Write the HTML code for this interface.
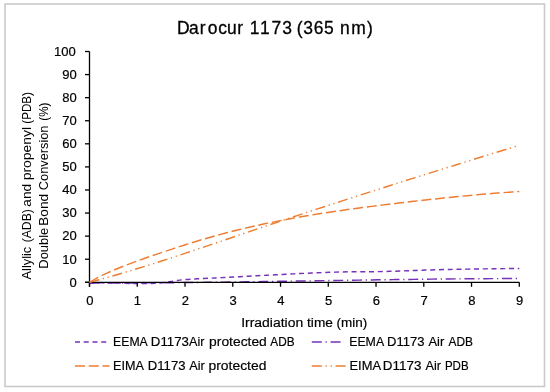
<!DOCTYPE html>
<html><head><meta charset="utf-8"><style>
html,body{margin:0;padding:0;background:#fff;}
body{width:550px;height:392px;overflow:hidden;}
svg{display:block;}
text{font-family:'Liberation Sans', Arial, sans-serif;fill:#000;stroke:#000;stroke-width:0.2px;}
.t text{stroke-width:0.3px;}
.k text{stroke-width:0.2px;}
.v text{stroke-width:0;}
</style></head><body>
<svg width="550" height="392" viewBox="0 0 550 392">
<rect x="0" y="0" width="550" height="392" fill="#fff"/>
<rect x="5" y="4" width="539.5" height="382.5" fill="#fff" stroke="#cacaca" stroke-width="1.6"/>
<g class="t">
<text x="177.10 188.93 199.66 207.80 218.30 227.06 237.31 241.31 249.81 260.11 271.49 282.25 286.25 296.71 303.30 313.69 324.07 328.07 340.04 351.18 366.89" y="34.30" font-size="17.44">Darocur 1173 (365 nm)</text>
</g>
<g fill="none" stroke-linecap="butt">
<path d="M89.50,283.21 C90.50,283.16 93.50,283.00 95.50,282.94 C97.50,282.88 99.50,282.85 101.50,282.84 C103.50,282.82 105.50,282.84 107.50,282.86 C109.50,282.88 111.50,282.92 113.50,282.97 C115.50,283.01 117.50,283.07 119.50,283.13 C121.50,283.19 123.50,283.25 125.50,283.31 C127.50,283.37 129.50,283.43 131.50,283.48 C133.50,283.53 135.50,283.57 137.50,283.59 C139.50,283.62 141.50,283.63 143.50,283.62 C145.50,283.61 147.50,283.59 149.50,283.53 C151.50,283.47 153.50,283.39 155.50,283.28 C157.50,283.16 159.50,283.03 161.50,282.83 C163.50,282.64 165.50,282.42 167.50,282.13 C169.50,281.84 171.50,281.43 173.50,281.10 C175.50,280.76 177.50,280.36 179.50,280.10 C181.50,279.84 183.50,279.70 185.50,279.54 C187.50,279.37 189.50,279.25 191.50,279.13 C193.50,279.01 195.50,278.92 197.50,278.81 C199.50,278.71 201.50,278.62 203.50,278.52 C205.50,278.43 207.50,278.33 209.50,278.23 C211.50,278.13 213.50,278.03 215.50,277.93 C217.50,277.83 219.50,277.73 221.50,277.63 C223.50,277.52 225.50,277.42 227.50,277.31 C229.50,277.21 231.50,277.11 233.50,277.00 C235.50,276.89 237.50,276.79 239.50,276.68 C241.50,276.58 243.50,276.47 245.50,276.36 C247.50,276.26 249.50,276.15 251.50,276.05 C253.50,275.94 255.50,275.83 257.50,275.73 C259.50,275.62 261.50,275.51 263.50,275.41 C265.50,275.30 267.50,275.20 269.50,275.09 C271.50,274.99 273.50,274.89 275.50,274.78 C277.50,274.68 279.50,274.58 281.50,274.48 C283.50,274.37 285.50,274.27 287.50,274.18 C289.50,274.08 291.50,273.98 293.50,273.88 C295.50,273.78 297.50,273.69 299.50,273.59 C301.50,273.50 303.50,273.41 305.50,273.32 C307.50,273.23 309.50,273.14 311.50,273.05 C313.50,272.96 315.50,272.88 317.50,272.79 C319.50,272.71 321.50,272.63 323.50,272.55 C325.50,272.47 327.50,272.39 329.50,272.32 C331.50,272.25 333.50,272.18 335.50,272.12 C337.50,272.05 339.50,272.00 341.50,271.95 C343.50,271.90 345.50,271.86 347.50,271.83 C349.50,271.81 351.50,271.79 353.50,271.77 C355.50,271.76 357.50,271.76 359.50,271.75 C361.50,271.74 363.50,271.74 365.50,271.73 C367.50,271.73 369.50,271.72 371.50,271.70 C373.50,271.68 375.50,271.66 377.50,271.62 C379.50,271.59 381.50,271.55 383.50,271.50 C385.50,271.45 387.50,271.40 389.50,271.34 C391.50,271.28 393.50,271.22 395.50,271.16 C397.50,271.09 399.50,271.02 401.50,270.95 C403.50,270.88 405.50,270.80 407.50,270.73 C409.50,270.66 411.50,270.58 413.50,270.51 C415.50,270.44 417.50,270.36 419.50,270.29 C421.50,270.22 423.50,270.16 425.50,270.09 C427.50,270.03 429.50,269.97 431.50,269.91 C433.50,269.85 435.50,269.79 437.50,269.74 C439.50,269.69 441.50,269.64 443.50,269.59 C445.50,269.54 447.50,269.50 449.50,269.45 C451.50,269.41 453.50,269.37 455.50,269.33 C457.50,269.29 459.50,269.25 461.50,269.22 C463.50,269.18 465.50,269.15 467.50,269.11 C469.50,269.08 471.50,269.05 473.50,269.02 C475.50,268.99 477.50,268.96 479.50,268.93 C481.50,268.91 483.50,268.88 485.50,268.85 C487.50,268.83 489.50,268.80 491.50,268.78 C493.50,268.75 495.50,268.73 497.50,268.70 C499.50,268.68 501.50,268.65 503.50,268.63 C505.50,268.60 507.50,268.58 509.50,268.55 C511.50,268.53 513.87,268.50 515.50,268.48 C517.13,268.46 518.67,268.44 519.30,268.43" stroke="#7632B8" stroke-width="1.45" stroke-dasharray="5.0,3.75"/>
<path d="M89.50,283.05 C90.50,283.05 93.50,283.05 95.50,283.05 C97.50,283.05 99.50,283.05 101.50,283.05 C103.50,283.05 105.50,283.04 107.50,283.04 C109.50,283.04 111.50,283.04 113.50,283.03 C115.50,283.03 117.50,283.02 119.50,283.01 C121.50,283.01 123.50,283.00 125.50,282.99 C127.50,282.99 129.50,282.98 131.50,282.97 C133.50,282.96 135.50,282.95 137.50,282.94 C139.50,282.93 141.50,282.92 143.50,282.91 C145.50,282.89 147.50,282.88 149.50,282.87 C151.50,282.85 153.50,282.84 155.50,282.83 C157.50,282.81 159.50,282.80 161.50,282.78 C163.50,282.77 165.50,282.75 167.50,282.73 C169.50,282.72 171.50,282.70 173.50,282.68 C175.50,282.66 177.50,282.64 179.50,282.62 C181.50,282.61 183.50,282.59 185.50,282.57 C187.50,282.55 189.50,282.52 191.50,282.50 C193.50,282.48 195.50,282.46 197.50,282.44 C199.50,282.42 201.50,282.39 203.50,282.37 C205.50,282.35 207.50,282.32 209.50,282.30 C211.50,282.28 213.50,282.25 215.50,282.23 C217.50,282.20 219.50,282.18 221.50,282.15 C223.50,282.13 225.50,282.10 227.50,282.08 C229.50,282.05 231.50,282.02 233.50,282.00 C235.50,281.97 237.50,281.94 239.50,281.92 C241.50,281.89 243.50,281.86 245.50,281.83 C247.50,281.80 249.50,281.78 251.50,281.75 C253.50,281.72 255.50,281.69 257.50,281.66 C259.50,281.63 261.50,281.60 263.50,281.57 C265.50,281.54 267.50,281.51 269.50,281.48 C271.50,281.46 273.50,281.43 275.50,281.40 C277.50,281.37 279.50,281.33 281.50,281.30 C283.50,281.27 285.50,281.24 287.50,281.21 C289.50,281.18 291.50,281.15 293.50,281.12 C295.50,281.09 297.50,281.06 299.50,281.03 C301.50,281.00 303.50,280.97 305.50,280.93 C307.50,280.90 309.50,280.87 311.50,280.84 C313.50,280.81 315.50,280.78 317.50,280.75 C319.50,280.72 321.50,280.69 323.50,280.65 C325.50,280.62 327.50,280.59 329.50,280.56 C331.50,280.53 333.50,280.50 335.50,280.47 C337.50,280.44 339.50,280.41 341.50,280.38 C343.50,280.35 345.50,280.32 347.50,280.29 C349.50,280.25 351.50,280.22 353.50,280.19 C355.50,280.16 357.50,280.13 359.50,280.10 C361.50,280.07 363.50,280.04 365.50,280.02 C367.50,279.99 369.50,279.96 371.50,279.93 C373.50,279.90 375.50,279.87 377.50,279.84 C379.50,279.81 381.50,279.78 383.50,279.76 C385.50,279.73 387.50,279.70 389.50,279.67 C391.50,279.64 393.50,279.62 395.50,279.59 C397.50,279.56 399.50,279.54 401.50,279.51 C403.50,279.48 405.50,279.46 407.50,279.43 C409.50,279.41 411.50,279.38 413.50,279.36 C415.50,279.33 417.50,279.31 419.50,279.28 C421.50,279.26 423.50,279.24 425.50,279.21 C427.50,279.19 429.50,279.17 431.50,279.15 C433.50,279.12 435.50,279.10 437.50,279.08 C439.50,279.06 441.50,279.04 443.50,279.02 C445.50,279.00 447.50,278.98 449.50,278.96 C451.50,278.94 453.50,278.92 455.50,278.90 C457.50,278.88 459.50,278.87 461.50,278.85 C463.50,278.83 465.50,278.81 467.50,278.80 C469.50,278.78 471.50,278.77 473.50,278.75 C475.50,278.74 477.50,278.72 479.50,278.71 C481.50,278.70 483.50,278.68 485.50,278.67 C487.50,278.66 489.50,278.65 491.50,278.64 C493.50,278.63 495.50,278.62 497.50,278.61 C499.50,278.60 501.50,278.59 503.50,278.58 C505.50,278.57 507.50,278.57 509.50,278.56 C511.50,278.55 513.87,278.55 515.50,278.54 C517.13,278.54 518.67,278.53 519.30,278.53" stroke="#7632B8" stroke-width="1.45" stroke-dasharray="10.0,3.75,1.25,3.75"/>
</g>
<g stroke="#000" stroke-width="1.3" fill="none">
<line x1="89.5" y1="51.5" x2="89.5" y2="286.8"/>
<line x1="85" y1="282.30" x2="519.30" y2="282.30"/>
<line x1="85" y1="282.30" x2="89.5" y2="282.30"/>
<line x1="85" y1="259.22" x2="89.5" y2="259.22"/>
<line x1="85" y1="236.14" x2="89.5" y2="236.14"/>
<line x1="85" y1="213.06" x2="89.5" y2="213.06"/>
<line x1="85" y1="189.98" x2="89.5" y2="189.98"/>
<line x1="85" y1="166.90" x2="89.5" y2="166.90"/>
<line x1="85" y1="143.82" x2="89.5" y2="143.82"/>
<line x1="85" y1="120.74" x2="89.5" y2="120.74"/>
<line x1="85" y1="97.66" x2="89.5" y2="97.66"/>
<line x1="85" y1="74.58" x2="89.5" y2="74.58"/>
<line x1="85" y1="51.50" x2="89.5" y2="51.50"/>
<line x1="89.50" y1="282.30" x2="89.50" y2="286.8"/>
<line x1="137.26" y1="282.30" x2="137.26" y2="286.8"/>
<line x1="185.01" y1="282.30" x2="185.01" y2="286.8"/>
<line x1="232.77" y1="282.30" x2="232.77" y2="286.8"/>
<line x1="280.52" y1="282.30" x2="280.52" y2="286.8"/>
<line x1="328.28" y1="282.30" x2="328.28" y2="286.8"/>
<line x1="376.03" y1="282.30" x2="376.03" y2="286.8"/>
<line x1="423.79" y1="282.30" x2="423.79" y2="286.8"/>
<line x1="471.54" y1="282.30" x2="471.54" y2="286.8"/>
<line x1="519.30" y1="282.30" x2="519.30" y2="286.8"/>
</g>
<g fill="none" stroke-linecap="butt">
<path d="M89.50,282.30 C90.50,281.71 93.50,279.87 95.50,278.76 C97.50,277.65 99.50,276.63 101.50,275.64 C103.50,274.65 105.50,273.73 107.50,272.83 C109.50,271.93 111.50,271.08 113.50,270.23 C115.50,269.39 117.50,268.57 119.50,267.76 C121.50,266.95 123.50,266.15 125.50,265.37 C127.50,264.59 129.50,263.83 131.50,263.08 C133.50,262.33 135.50,261.59 137.50,260.87 C139.50,260.14 141.50,259.43 143.50,258.73 C145.50,258.02 147.50,257.33 149.50,256.65 C151.50,255.96 153.50,255.28 155.50,254.61 C157.50,253.93 159.50,253.26 161.50,252.58 C163.50,251.91 165.50,251.24 167.50,250.58 C169.50,249.91 171.50,249.25 173.50,248.59 C175.50,247.93 177.50,247.28 179.50,246.63 C181.50,245.98 183.50,245.34 185.50,244.71 C187.50,244.07 189.50,243.44 191.50,242.82 C193.50,242.20 195.50,241.58 197.50,240.98 C199.50,240.37 201.50,239.78 203.50,239.19 C205.50,238.60 207.50,238.02 209.50,237.45 C211.50,236.88 213.50,236.32 215.50,235.77 C217.50,235.22 219.50,234.67 221.50,234.14 C223.50,233.60 225.50,233.08 227.50,232.56 C229.50,232.04 231.50,231.53 233.50,231.03 C235.50,230.52 237.50,230.03 239.50,229.54 C241.50,229.06 243.50,228.58 245.50,228.11 C247.50,227.64 249.50,227.17 251.50,226.72 C253.50,226.26 255.50,225.81 257.50,225.37 C259.50,224.93 261.50,224.50 263.50,224.07 C265.50,223.64 267.50,223.22 269.50,222.81 C271.50,222.40 273.50,221.99 275.50,221.59 C277.50,221.19 279.50,220.80 281.50,220.41 C283.50,220.03 285.50,219.64 287.50,219.27 C289.50,218.89 291.50,218.53 293.50,218.16 C295.50,217.80 297.50,217.44 299.50,217.09 C301.50,216.74 303.50,216.39 305.50,216.05 C307.50,215.71 309.50,215.38 311.50,215.05 C313.50,214.72 315.50,214.39 317.50,214.07 C319.50,213.75 321.50,213.43 323.50,213.12 C325.50,212.81 327.50,212.50 329.50,212.20 C331.50,211.90 333.50,211.60 335.50,211.31 C337.50,211.01 339.50,210.72 341.50,210.44 C343.50,210.15 345.50,209.87 347.50,209.59 C349.50,209.31 351.50,209.03 353.50,208.76 C355.50,208.49 357.50,208.22 359.50,207.95 C361.50,207.69 363.50,207.42 365.50,207.16 C367.50,206.90 369.50,206.65 371.50,206.39 C373.50,206.14 375.50,205.89 377.50,205.64 C379.50,205.39 381.50,205.14 383.50,204.89 C385.50,204.65 387.50,204.40 389.50,204.16 C391.50,203.92 393.50,203.68 395.50,203.44 C397.50,203.20 399.50,202.97 401.50,202.73 C403.50,202.49 405.50,202.26 407.50,202.03 C409.50,201.80 411.50,201.57 413.50,201.34 C415.50,201.11 417.50,200.88 419.50,200.65 C421.50,200.43 423.50,200.20 425.50,199.98 C427.50,199.76 429.50,199.54 431.50,199.32 C433.50,199.11 435.50,198.89 437.50,198.68 C439.50,198.46 441.50,198.25 443.50,198.04 C445.50,197.84 447.50,197.63 449.50,197.43 C451.50,197.22 453.50,197.02 455.50,196.82 C457.50,196.62 459.50,196.43 461.50,196.23 C463.50,196.04 465.50,195.85 467.50,195.66 C469.50,195.47 471.50,195.29 473.50,195.10 C475.50,194.92 477.50,194.74 479.50,194.57 C481.50,194.39 483.50,194.22 485.50,194.05 C487.50,193.88 489.50,193.71 491.50,193.55 C493.50,193.39 495.50,193.23 497.50,193.07 C499.50,192.91 501.50,192.76 503.50,192.61 C505.50,192.46 507.50,192.32 509.50,192.17 C511.50,192.03 513.87,191.87 515.50,191.76 C517.13,191.65 518.67,191.55 519.30,191.51" stroke="#ED7D31" stroke-width="1.45" stroke-dasharray="10.0,3.75"/>
<path d="M89.50,282.33 C91.50,281.79 97.50,280.19 101.50,279.08 C105.50,277.97 109.50,276.84 113.50,275.69 C117.50,274.54 121.50,273.37 125.50,272.18 C129.50,270.99 133.50,269.78 137.50,268.55 C141.50,267.33 145.50,266.09 149.50,264.83 C153.50,263.57 157.50,262.30 161.50,261.02 C165.50,259.73 169.50,258.43 173.50,257.13 C177.50,255.82 181.50,254.50 185.50,253.18 C189.50,251.85 193.50,250.51 197.50,249.17 C201.50,247.83 205.50,246.49 209.50,245.14 C213.50,243.78 217.50,242.43 221.50,241.07 C225.50,239.71 229.50,238.35 233.50,236.99 C237.50,235.63 241.50,234.27 245.50,232.92 C249.50,231.56 253.50,230.20 257.50,228.85 C261.50,227.50 265.50,226.15 269.50,224.81 C273.50,223.47 277.50,222.13 281.50,220.80 C285.50,219.46 289.50,218.14 293.50,216.81 C297.50,215.49 301.50,214.17 305.50,212.85 C309.50,211.54 313.50,210.22 317.50,208.92 C321.50,207.61 325.50,206.30 329.50,205.00 C333.50,203.70 337.50,202.41 341.50,201.11 C345.50,199.82 349.50,198.53 353.50,197.24 C357.50,195.96 361.50,194.67 365.50,193.39 C369.50,192.11 373.50,190.84 377.50,189.56 C381.50,188.29 385.50,187.02 389.50,185.75 C393.50,184.48 397.50,183.21 401.50,181.95 C405.50,180.68 409.50,179.42 413.50,178.16 C417.50,176.91 421.50,175.65 425.50,174.39 C429.50,173.14 433.50,171.89 437.50,170.64 C441.50,169.39 445.50,168.14 449.50,166.89 C453.50,165.64 457.50,164.40 461.50,163.15 C465.50,161.91 469.50,160.67 473.50,159.42 C477.50,158.18 481.50,156.94 485.50,155.70 C489.50,154.47 493.50,153.23 497.50,151.99 C501.50,150.75 505.87,149.40 509.50,148.28 C513.13,147.16 517.67,145.76 519.30,145.25" stroke="#ED7D31" stroke-width="1.45" stroke-dasharray="10.0,3.75,1.25,3.75,1.25,3.75"/>
</g>
<g>
<g class="k">
<text x="69.56" y="286.60" font-size="13.17" textLength="7.25" lengthAdjust="spacingAndGlyphs">0</text>
<text x="62.31" y="263.52" font-size="13.17" textLength="14.50" lengthAdjust="spacingAndGlyphs">10</text>
<text x="62.31" y="240.44" font-size="13.17" textLength="14.50" lengthAdjust="spacingAndGlyphs">20</text>
<text x="62.31" y="217.36" font-size="13.17" textLength="14.50" lengthAdjust="spacingAndGlyphs">30</text>
<text x="62.31" y="194.28" font-size="13.17" textLength="14.50" lengthAdjust="spacingAndGlyphs">40</text>
<text x="62.31" y="171.20" font-size="13.17" textLength="14.50" lengthAdjust="spacingAndGlyphs">50</text>
<text x="62.31" y="148.12" font-size="13.17" textLength="14.50" lengthAdjust="spacingAndGlyphs">60</text>
<text x="62.31" y="125.04" font-size="13.17" textLength="14.50" lengthAdjust="spacingAndGlyphs">70</text>
<text x="62.31" y="101.96" font-size="13.17" textLength="14.50" lengthAdjust="spacingAndGlyphs">80</text>
<text x="62.31" y="78.88" font-size="13.17" textLength="14.50" lengthAdjust="spacingAndGlyphs">90</text>
<text x="53.95" y="55.80" font-size="13.17" textLength="21.76" lengthAdjust="spacingAndGlyphs">100</text>
<text x="86.27" y="305.4" font-size="13.17" textLength="7.25" lengthAdjust="spacingAndGlyphs">0</text>
<text x="133.85" y="305.4" font-size="13.17" textLength="7.25" lengthAdjust="spacingAndGlyphs">1</text>
<text x="181.79" y="305.4" font-size="13.17" textLength="7.25" lengthAdjust="spacingAndGlyphs">2</text>
<text x="229.58" y="305.4" font-size="13.17" textLength="7.25" lengthAdjust="spacingAndGlyphs">3</text>
<text x="277.34" y="305.4" font-size="13.17" textLength="7.25" lengthAdjust="spacingAndGlyphs">4</text>
<text x="325.06" y="305.4" font-size="13.17" textLength="7.25" lengthAdjust="spacingAndGlyphs">5</text>
<text x="372.76" y="305.4" font-size="13.17" textLength="7.25" lengthAdjust="spacingAndGlyphs">6</text>
<text x="420.56" y="305.4" font-size="13.17" textLength="7.25" lengthAdjust="spacingAndGlyphs">7</text>
<text x="468.32" y="305.4" font-size="13.17" textLength="7.25" lengthAdjust="spacingAndGlyphs">8</text>
<text x="516.08" y="305.4" font-size="13.17" textLength="7.25" lengthAdjust="spacingAndGlyphs">9</text>
</g>
<text y="327.10" font-size="13.66"><tspan x="241.21" textLength="61.99" lengthAdjust="spacingAndGlyphs">Irradiation</tspan> <tspan x="307.09" textLength="25.81" lengthAdjust="spacingAndGlyphs">time</tspan> <tspan x="336.46" textLength="30.67" lengthAdjust="spacingAndGlyphs">(min)</tspan></text>
<g class="v">
<text transform="rotate(-90)" y="30.80" font-size="13.66"><tspan x="-279.42" textLength="32.66" lengthAdjust="spacingAndGlyphs">Allylic</tspan> <tspan x="-242.36" textLength="33.21" lengthAdjust="spacingAndGlyphs">(ADB)</tspan> <tspan x="-206.68" textLength="22.76" lengthAdjust="spacingAndGlyphs">and</tspan> <tspan x="-180.30" textLength="53.43" lengthAdjust="spacingAndGlyphs">propenyl</tspan> <tspan x="-123.72" textLength="31.64" lengthAdjust="spacingAndGlyphs">(PDB)</tspan></text>
<text transform="rotate(-90)" y="47.90" font-size="13.66"><tspan x="-268.66" textLength="40.83" lengthAdjust="spacingAndGlyphs">Double</tspan> <tspan x="-225.93" textLength="32.22" lengthAdjust="spacingAndGlyphs">Bond</tspan> <tspan x="-190.15" textLength="64.58" lengthAdjust="spacingAndGlyphs">Conversion</tspan> <tspan x="-120.72" textLength="18.04" lengthAdjust="spacingAndGlyphs">(%)</tspan></text>
</g>
<text y="345.70" font-size="13.66"><tspan x="113.12" textLength="33.90" lengthAdjust="spacingAndGlyphs">EEMA</tspan> <tspan x="150.84" textLength="38.03" lengthAdjust="spacingAndGlyphs">D1173</tspan><tspan x="189.08" textLength="15.43" lengthAdjust="spacingAndGlyphs">Air</tspan> <tspan x="209.11" textLength="57.68" lengthAdjust="spacingAndGlyphs">protected</tspan> <tspan x="270.28" textLength="24.24" lengthAdjust="spacingAndGlyphs">ADB</tspan></text>
<text y="370.20" font-size="13.66"><tspan x="113.09" textLength="30.14" lengthAdjust="spacingAndGlyphs">EIMA</tspan> <tspan x="147.85" textLength="37.61" lengthAdjust="spacingAndGlyphs">D1173</tspan> <tspan x="189.18" textLength="15.54" lengthAdjust="spacingAndGlyphs">Air</tspan> <tspan x="208.51" textLength="57.89" lengthAdjust="spacingAndGlyphs">protected</tspan></text>
<text y="345.70" font-size="13.66"><tspan x="349.21" textLength="34.21" lengthAdjust="spacingAndGlyphs">EEMA</tspan> <tspan x="387.06" textLength="37.40" lengthAdjust="spacingAndGlyphs">D1173</tspan> <tspan x="428.47" textLength="15.74" lengthAdjust="spacingAndGlyphs">Air</tspan> <tspan x="448.58" textLength="24.45" lengthAdjust="spacingAndGlyphs">ADB</tspan></text>
<text y="370.20" font-size="13.66"><tspan x="349.46" textLength="30.86" lengthAdjust="spacingAndGlyphs">EIMA</tspan> <tspan x="382.83" textLength="38.55" lengthAdjust="spacingAndGlyphs">D1173</tspan> <tspan x="425.48" textLength="15.54" lengthAdjust="spacingAndGlyphs">Air</tspan> <tspan x="444.96" textLength="23.65" lengthAdjust="spacingAndGlyphs">PDB</tspan></text>
</g>
<g fill="none" stroke-width="1.45">
<line x1="75" y1="342.0" x2="107" y2="342.0" stroke="#7632B8" stroke-dasharray="5.0,3.75"/>
<line x1="75" y1="366.0" x2="109.5" y2="366.0" stroke="#ED7D31" stroke-dasharray="10.0,3.75"/>
<line x1="311.8" y1="341.9" x2="341" y2="341.9" stroke="#7632B8" stroke-dasharray="10.0,3.75,1.25,3.75"/>
<line x1="311.8" y1="366.0" x2="345.8" y2="366.0" stroke="#ED7D31" stroke-dasharray="10.0,3.75,1.25,3.75,1.25,3.75"/>
</g>
</svg>
</body></html>
